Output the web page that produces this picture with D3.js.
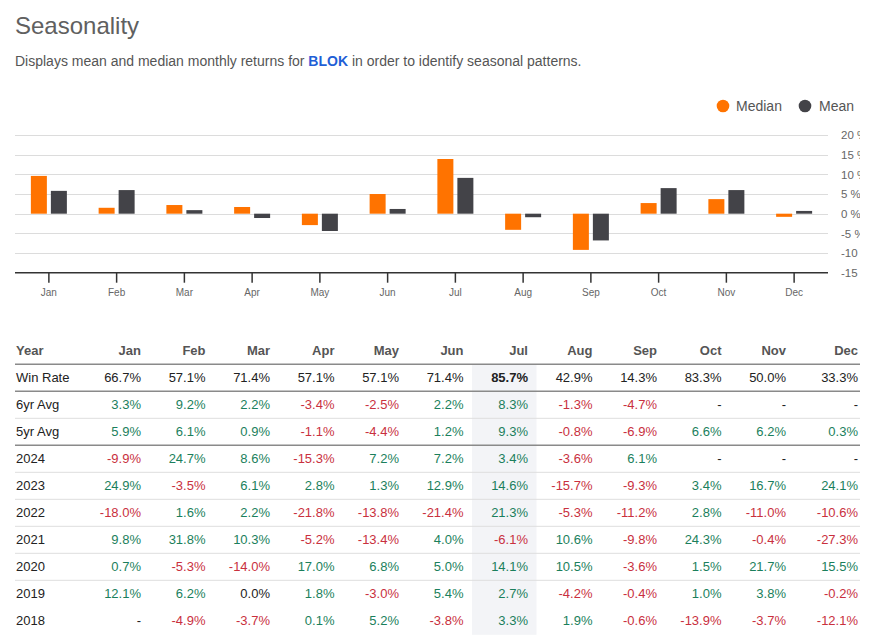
<!DOCTYPE html>
<html>
<head>
<meta charset="utf-8">
<script src="https://cdn.jsdelivr.net/npm/d3@7/dist/d3.min.js"></script>
<style>
  html, body { margin: 0; padding: 0; background: #fff; }
  svg { display: block; font-family: "Liberation Sans", Arial, sans-serif; }
</style>
</head>
<body>
<svg id="chart" width="871" height="643"></svg>
<script>
// ---- data ----
const months = ["Jan","Feb","Mar","Apr","May","Jun","Jul","Aug","Sep","Oct","Nov","Dec"];
const seriesNames = ["Median","Mean"];
const medianVals = [9.6, 1.5, 2.2, 1.7, -2.9, 5.0, 13.9, -4.1, -9.2, 2.7, 3.7, -0.8];
const meanVals   = [5.8, 6.0, 0.9, -1.1, -4.4, 1.2, 9.1, -0.9, -6.8, 6.5, 6.0, 0.7];
const yTicks = [20, 15, 10, 5, 0, -5, -10, -15];

const rowLabels = ["Win Rate","6yr Avg","5yr Avg","2024","2023","2022","2021","2020","2019","2018"];
const winRate = [66.7,57.1,71.4,57.1,57.1,71.4,85.7,42.9,14.3,83.3,50.0,33.3];
const avg6  = [3.3,9.2,2.2,-3.4,-2.5,2.2,8.3,-1.3,-4.7,null,null,null];
const avg5  = [5.9,6.1,0.9,-1.1,-4.4,1.2,9.3,-0.8,-6.9,6.6,6.2,0.3];
const y2024 = [-9.9,24.7,8.6,-15.3,7.2,7.2,3.4,-3.6,6.1,null,null,null];
const y2023 = [24.9,-3.5,6.1,2.8,1.3,12.9,14.6,-15.7,-9.3,3.4,16.7,24.1];
const y2022 = [-18.0,1.6,2.2,-21.8,-13.8,-21.4,21.3,-5.3,-11.2,2.8,-11.0,-10.6];
const y2021 = [9.8,31.8,10.3,-5.2,-13.4,4.0,-6.1,10.6,-9.8,24.3,-0.4,-27.3];
const y2020 = [0.7,-5.3,-14.0,17.0,6.8,5.0,14.1,10.5,-3.6,1.5,21.7,15.5];
const y2019 = [12.1,6.2,0.0,1.8,-3.0,5.4,2.7,-4.2,-0.4,1.0,3.8,-0.2];
const y2018 = [null,-4.9,-3.7,0.1,5.2,-3.8,3.3,1.9,-0.6,-13.9,-3.7,-12.1];
const highlightMonth = "Jul";

// ---- styles ----
const COLORS = { Median: "#ff7300", Mean: "#434348" };
const GREEN = "#1b7f5c", RED = "#c9303e";

const svg = d3.select("#chart");

// Title & subtitle
svg.append("text").attr("x", 15).attr("y", 34).attr("font-size", 24)
  .attr("fill", "#606060").text("Seasonality");
const sub = svg.append("text").attr("x", 15).attr("y", 66).attr("font-size", 14).attr("fill", "#555");
sub.append("tspan").text("Displays mean and median monthly returns for ");
sub.append("tspan").attr("font-weight", "bold").attr("fill", "#1f5fd6").text("BLOK");
sub.append("tspan").text(" in order to identify seasonal patterns.");

// Legend
const legend = [{name: "Median", cx: 723, tx: 736}, {name: "Mean", cx: 805, tx: 819}];
legend.forEach(l => {
  svg.append("circle").attr("cx", l.cx).attr("cy", 106).attr("r", 6.3).attr("fill", COLORS[l.name]);
  svg.append("text").attr("x", l.tx).attr("y", 111).attr("font-size", 14).attr("fill", "#555").text(l.name);
});

// Scales
const x = d3.scaleBand().domain(months).range([15, 828]).padding(0);
const xs = d3.scaleBand().domain(seriesNames).range([-18, 18]).paddingInner(0.2).paddingOuter(0);
const y = d3.scaleLinear().domain([-15, 20]).range([272.7, 135]);

// Grid
svg.append("g").selectAll("line").data(yTicks.filter(t => t > -15)).join("line")
  .attr("x1", 15).attr("x2", 828)
  .attr("y1", d => Math.round(y(d)) + 0.5).attr("y2", d => Math.round(y(d)) + 0.5)
  .attr("stroke", "#dcdcdc").attr("stroke-width", 1);

// Y labels (clipped at right)
svg.append("defs").append("clipPath").attr("id", "yclip")
  .append("rect").attr("x", 830).attr("y", 120).attr("width", 30).attr("height", 170);
const ywrap = svg.append("g").attr("clip-path", "url(#yclip)");
const yAxis = d3.axisRight(y).tickValues(yTicks).tickSize(0).tickPadding(0)
  .tickFormat(d => d + " %");
const yg = ywrap.append("g").attr("transform", "translate(841,0)").call(yAxis);
yg.select(".domain").remove();
yg.selectAll("text").attr("font-size", 11.5).attr("fill", "#666")
  .attr("font-family", "'Liberation Sans', Arial, sans-serif").attr("x", 0);

// Bars
const barData = [];
months.forEach((m, i) => {
  barData.push({m, s: "Median", v: medianVals[i]});
  barData.push({m, s: "Mean", v: meanVals[i]});
});
svg.append("g").selectAll("rect").data(barData).join("rect")
  .attr("x", d => x(d.m) + x.bandwidth() / 2 + xs(d.s))
  .attr("width", xs.bandwidth())
  .attr("y", d => Math.min(y(d.v), y(0)))
  .attr("height", d => Math.abs(y(d.v) - y(0)))
  .attr("fill", d => COLORS[d.s]);

// X axis
const xAxis = d3.axisBottom(x).tickSize(10).tickPadding(6);
const xg = svg.append("g").attr("transform", `translate(0,${y(-15)})`).call(xAxis);
xg.select(".domain").attr("stroke", "#333").attr("stroke-width", 1.5).attr("d", "M15,0H828");
xg.selectAll(".tick line").attr("stroke", "#333").attr("stroke-width", 1.5);
xg.selectAll("text").attr("font-size", 10).attr("fill", "#666")
  .attr("font-family", "'Liberation Sans', Arial, sans-serif");

// ---- Table ----
const cols = d3.scaleBand().domain(months).range([84, 858]).padding(0);
const rowData = [winRate, avg6, avg5, y2024, y2023, y2022, y2021, y2020, y2019, y2018];
const rowTop = 364.3, rowH = 27, headerY = 350.7;
const lastRowBottom = rowTop + rowH * rowData.length;

// highlight column
svg.append("rect").attr("x", cols(highlightMonth) + 1).attr("width", cols.bandwidth())
  .attr("y", rowTop).attr("height", lastRowBottom - rowTop + 0.5).attr("fill", "#f3f4f7");

const cellX = m => cols(m) + cols.bandwidth() - (m === "Dec" ? 0 : 7.5);

// header
const thead = svg.append("g").attr("font-size", 13).attr("font-weight", "bold").attr("fill", "#555");
thead.append("text").attr("x", 16).attr("y", headerY).attr("dy", "0.35em").text("Year");
months.forEach(m => thead.append("text").attr("x", cellX(m)).attr("y", headerY)
  .attr("dy", "0.35em").attr("text-anchor", "end").text(m));

// row lines
const strongLines = [0, 1, 3];
d3.range(rowData.length - 1).forEach(i => {
  const ly = rowTop + i * rowH;
  svg.append("line").attr("x1", 15).attr("x2", 860).attr("y1", ly).attr("y2", ly)
    .attr("stroke", strongLines.includes(i) ? "#8a8a8a" : "#dedede")
    .attr("stroke-width", strongLines.includes(i) ? 1.6 : 1);
});

const fmt = v => v.toFixed(1) + "%";
rowData.forEach((vals, r) => {
  const cy = rowTop + rowH * r + rowH / 2;
  svg.append("text").attr("x", 16).attr("y", cy).attr("dy", "0.35em").attr("font-size", 13)
    .attr("fill", "#222").text(rowLabels[r]);
  months.forEach((m, i) => {
    const v = vals[i];
    let fill = "#222", txt = "-";
    if (v !== null) {
      txt = fmt(v);
      if (r > 0) fill = v > 0 ? GREEN : (v < 0 ? RED : "#222");
    }
    svg.append("text").attr("x", cellX(m)).attr("y", cy).attr("dy", "0.35em")
      .attr("font-size", 13).attr("text-anchor", "end").attr("fill", fill)
      .attr("font-weight", (r === 0 && m === highlightMonth) ? "bold" : null)
      .text(txt);
  });
});
</script>
</body>
</html>
